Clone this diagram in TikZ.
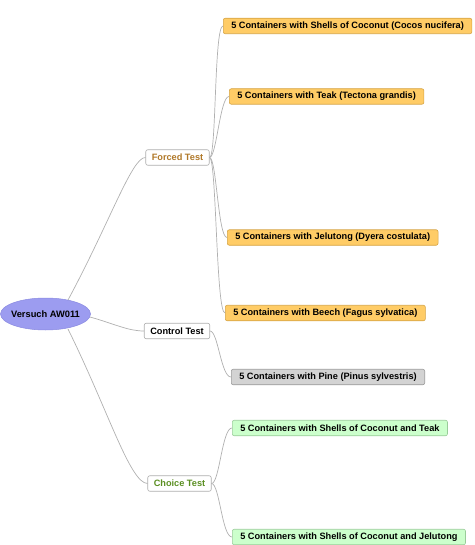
\documentclass[tikz,border=0pt]{standalone}
\usepackage{fontspec}
\setmainfont{Liberation Sans}
\usetikzlibrary{shapes.geometric}
\definecolor{orfill}{HTML}{FFCC66}
\definecolor{ordraw}{HTML}{D6A444}
\definecolor{grfill}{HTML}{D3D3D3}
\definecolor{grdraw}{HTML}{999999}
\definecolor{gnfill}{HTML}{CCFFCC}
\definecolor{gndraw}{HTML}{99CC99}
\definecolor{midraw}{HTML}{AFAFAF}
\definecolor{conn}{HTML}{B0B0B0}
\definecolor{forcedtxt}{HTML}{B07828}
\definecolor{choicetxt}{HTML}{5B8F22}
\definecolor{rootfill}{HTML}{9C9CF0}
\definecolor{rootdraw}{HTML}{8A8AE0}
\tikzset{
  base/.style={font=\fontsize{9.2}{10}\selectfont\bfseries, rounded corners=2pt, inner xsep=8pt, inner ysep=0pt, minimum height=15.5pt, line width=0.6pt, anchor=west},
  leafor/.style={base, fill=orfill, draw=ordraw},
  leafgr/.style={base, fill=grfill, draw=grdraw},
  leafgn/.style={base, fill=gnfill, draw=gndraw},
  midbox/.style={base, fill=white, draw=midraw, inner xsep=6pt, anchor=center},
  rootnode/.style={ellipse, fill=rootfill, draw=rootdraw, line width=0.5pt, minimum width=90pt, minimum height=32pt, inner sep=0pt, font=\fontsize{9.3}{10}\selectfont\bfseries},
  link/.style={draw=conn, line width=0.7pt}
}
\begin{document}
\begin{tikzpicture}[x=1pt,y=-1pt]
\useasboundingbox (0,0) rectangle (474,545);
\node[rootnode] (root) at (45.5,314) {\makebox[0pt]{Versuch AW011}};
\node[midbox, text=forcedtxt] (forced) at (177.5,157.5) {Forced Test};
\node[midbox] (control) at (177,331) {Control Test};
\node[midbox, text=choicetxt] (choice) at (179.5,483.5) {Choice Test};
\node[leafor] (l1) at (223,26) {5 Containers with Shells of Coconut (Cocos nucifera)};
\node[leafor] (l2) at (229,96.5) {5 Containers with Teak (Tectona grandis)};
\node[leafor] (l3) at (227,237.5) {5 Containers with Jelutong (Dyera costulata)};
\node[leafor] (l4) at (225,313) {5 Containers with Beech (Fagus sylvatica)};
\node[leafgr] (l5) at (231,377) {5 Containers with Pine (Pinus sylvestris)};
\node[leafgn] (l6) at (232,428) {5 Containers with Shells of Coconut and Teak};
\node[leafgn] (l7) at (232,537) {5 Containers with Shells of Coconut and Jelutong};
% root links
\coordinate (rf) at (68,300);
\coordinate (rc) at (90,317);
\coordinate (rh) at (68,329);
\path[link] (rf) .. controls (110,222) and (132,157) .. (forced.west);
\path[link] (rc) .. controls (115,324) and (128,331) .. (control.west);
\path[link] (rh) .. controls (108,410) and (130,483) .. (choice.west);
% forced links
\foreach \l in {l1,l2,l3,l4}
  \path[link] (forced.east) .. controls +(7,0) and +(-9,0) .. (\l.west);
\path[link] (control.east) .. controls +(8,0) and +(-10,0) .. (l5.west);
\foreach \l in {l6,l7}
  \path[link] (choice.east) .. controls +(8,0) and +(-10,0) .. (\l.west);
\end{tikzpicture}
\end{document}
